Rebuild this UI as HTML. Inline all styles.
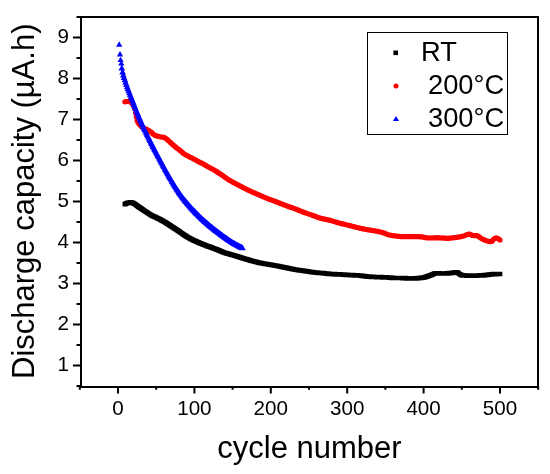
<!DOCTYPE html>
<html><head><meta charset="utf-8"><style>
html,body{margin:0;padding:0;background:#fff;}
body{width:550px;height:474px;overflow:hidden;}
svg{display:block;font-family:"Liberation Sans",Arial,sans-serif;}
</style></head><body>
<svg width="550" height="474" viewBox="0 0 550 474">
<rect width="550" height="474" fill="#fff"/>
<path d="M124.9 204.2h0M125.6 203.8h0M126.4 203.4h0M127.2 203.1h0M127.9 202.9h0M128.7 202.7h0M129.5 202.5h0M130.2 202.4h0M131 202.4h0M131.8 202.6h0M132.5 202.9h0M133.3 203.2h0M134 203.6h0M134.8 204h0M135.6 204.5h0M136.3 205.1h0M137.1 205.7h0M137.9 206.3h0M138.6 206.8h0M139.4 207.3h0M140.2 207.8h0M140.9 208.4h0M141.7 208.9h0M142.4 209.4h0M143.2 210h0M144 210.5h0M144.7 211h0M145.5 211.5h0M146.3 212h0M147 212.5h0M147.8 213h0M148.6 213.5h0M149.3 214h0M150.1 214.5h0M150.9 215h0M151.6 215.4h0M152.4 215.8h0M153.1 216.2h0M153.9 216.5h0M154.7 216.8h0M155.4 217.2h0M156.2 217.5h0M157 217.9h0M157.7 218.3h0M158.5 218.6h0M159.3 219h0M160 219.4h0M160.8 219.8h0M161.5 220.3h0M162.3 220.7h0M163.1 221.1h0M163.8 221.5h0M164.6 222h0M165.4 222.4h0M166.1 222.9h0M166.9 223.4h0M167.7 223.9h0M168.4 224.4h0M169.2 224.9h0M170 225.4h0M170.7 225.9h0M171.5 226.3h0M172.2 226.8h0M173 227.3h0M173.8 227.8h0M174.5 228.3h0M175.3 228.8h0M176.1 229.3h0M176.8 229.8h0M177.6 230.4h0M178.4 230.9h0M179.1 231.4h0M179.9 231.9h0M180.6 232.5h0M181.4 233h0M182.2 233.5h0M182.9 234.1h0M183.7 234.6h0M184.5 235.1h0M185.2 235.7h0M186 236.2h0M186.8 236.6h0M187.5 237.1h0M188.3 237.5h0M189.1 238h0M189.8 238.4h0M190.6 238.8h0M191.3 239.2h0M192.1 239.6h0M192.9 239.9h0M193.6 240.3h0M194.4 240.7h0M195.2 241h0M195.9 241.4h0M196.7 241.7h0M197.5 242.1h0M198.2 242.4h0M199 242.7h0M199.7 243.1h0M200.5 243.4h0M201.3 243.7h0M202 244h0M202.8 244.3h0M203.6 244.6h0M204.3 244.9h0M205.1 245.2h0M205.9 245.5h0M206.6 245.8h0M207.4 246.1h0M208.2 246.4h0M208.9 246.6h0M209.7 246.9h0M210.4 247.2h0M211.2 247.4h0M212 247.7h0M212.7 248h0M213.5 248.3h0M214.3 248.5h0M215 248.8h0M215.8 249.1h0M216.6 249.4h0M217.3 249.7h0M218.1 250.1h0M218.8 250.4h0M219.6 250.7h0M220.4 251h0M221.1 251.4h0M221.9 251.7h0M222.7 252h0M223.4 252.3h0M224.2 252.5h0M225 252.8h0M225.7 253h0M226.5 253.3h0M227.3 253.5h0M228 253.7h0M228.8 253.9h0M229.5 254.1h0M230.3 254.4h0M231.1 254.6h0M231.8 254.8h0M232.6 255h0M233.4 255.2h0M234.1 255.5h0M234.9 255.7h0M235.7 256h0M236.4 256.2h0M237.2 256.4h0M237.9 256.7h0M238.7 256.9h0M239.5 257.1h0M240.2 257.4h0M241 257.6h0M241.8 257.8h0M242.5 258.1h0M243.3 258.3h0M244.1 258.5h0M244.8 258.8h0M245.6 259h0M246.4 259.2h0M247.1 259.5h0M247.9 259.7h0M248.6 259.9h0M249.4 260.1h0M250.2 260.4h0M250.9 260.6h0M251.7 260.8h0M252.5 261h0M253.2 261.2h0M254 261.4h0M254.8 261.6h0M255.5 261.8h0M256.3 262h0M257 262.2h0M257.8 262.4h0M258.6 262.6h0M259.3 262.8h0M260.1 262.9h0M260.9 263.1h0M261.6 263.2h0M262.4 263.4h0M263.2 263.5h0M263.9 263.6h0M264.7 263.8h0M265.5 263.9h0M266.2 264h0M267 264.1h0M267.7 264.3h0M268.5 264.4h0M269.3 264.5h0M270 264.7h0M270.8 264.8h0M271.6 264.9h0M272.3 265.1h0M273.1 265.2h0M273.9 265.3h0M274.6 265.5h0M275.4 265.6h0M276.1 265.7h0M276.9 265.9h0M277.7 266h0M278.4 266.1h0M279.2 266.3h0M280 266.5h0M280.7 266.6h0M281.5 266.8h0M282.3 266.9h0M283 267.1h0M283.8 267.3h0M284.6 267.4h0M285.3 267.6h0M286.1 267.7h0M286.8 267.9h0M287.6 268.1h0M288.4 268.2h0M289.1 268.4h0M289.9 268.5h0M290.7 268.7h0M291.4 268.9h0M292.2 269h0M293 269.2h0M293.7 269.3h0M294.5 269.5h0M295.2 269.6h0M296 269.7h0M296.8 269.9h0M297.5 270h0M298.3 270.1h0M299.1 270.2h0M299.8 270.3h0M300.6 270.4h0M301.4 270.5h0M302.1 270.6h0M302.9 270.7h0M303.7 270.8h0M304.4 270.9h0M305.2 271.1h0M305.9 271.2h0M306.7 271.3h0M307.5 271.4h0M308.2 271.5h0M309 271.7h0M309.8 271.8h0M310.5 271.9h0M311.3 272h0M312.1 272.1h0M312.8 272.2h0M313.6 272.3h0M314.3 272.4h0M315.1 272.5h0M315.9 272.6h0M316.6 272.7h0M317.4 272.7h0M318.2 272.8h0M318.9 272.8h0M319.7 272.9h0M320.5 273h0M321.2 273h0M322 273.1h0M322.8 273.2h0M323.5 273.2h0M324.3 273.3h0M325 273.4h0M325.8 273.5h0M326.6 273.6h0M327.3 273.6h0M328.1 273.7h0M328.9 273.8h0M329.6 273.9h0M330.4 274h0M331.2 274h0M331.9 274.1h0M332.7 274.1h0M333.4 274.2h0M334.2 274.2h0M335 274.2h0M335.7 274.3h0M336.5 274.3h0M337.3 274.3h0M338 274.4h0M338.8 274.4h0M339.6 274.4h0M340.3 274.4h0M341.1 274.5h0M341.9 274.5h0M342.6 274.6h0M343.4 274.6h0M344.1 274.7h0M344.9 274.7h0M345.7 274.8h0M346.4 274.8h0M347.2 274.9h0M348 274.9h0M348.7 275h0M349.5 275h0M350.3 275.1h0M351 275.1h0M351.8 275.2h0M352.5 275.2h0M353.3 275.2h0M354.1 275.3h0M354.8 275.3h0M355.6 275.3h0M356.4 275.4h0M357.1 275.4h0M357.9 275.4h0M358.7 275.5h0M359.4 275.5h0M360.2 275.6h0M361 275.7h0M361.7 275.8h0M362.5 275.9h0M363.2 276h0M364 276.1h0M364.8 276.2h0M365.5 276.3h0M366.3 276.4h0M367.1 276.5h0M367.8 276.6h0M368.6 276.6h0M369.4 276.7h0M370.1 276.7h0M370.9 276.8h0M371.6 276.8h0M372.4 276.9h0M373.2 276.9h0M373.9 276.9h0M374.7 277h0M375.5 277h0M376.2 277.1h0M377 277.1h0M377.8 277.1h0M378.5 277.1h0M379.3 277.2h0M380.1 277.2h0M380.8 277.2h0M381.6 277.2h0M382.3 277.3h0M383.1 277.3h0M383.9 277.3h0M384.6 277.3h0M385.4 277.4h0M386.2 277.4h0M386.9 277.4h0M387.7 277.5h0M388.5 277.5h0M389.2 277.6h0M390 277.7h0M390.7 277.7h0M391.5 277.8h0M392.3 277.9h0M393 277.9h0M393.8 278h0M394.6 278h0M395.3 278h0M396.1 278h0M396.9 278h0M397.6 278h0M398.4 278h0M399.2 278h0M399.9 278h0M400.7 278h0M401.4 278h0M402.2 278.1h0M403 278.1h0M403.7 278.1h0M404.5 278.2h0M405.3 278.2h0M406 278.3h0M406.8 278.3h0M407.6 278.4h0M408.3 278.4h0M409.1 278.5h0M409.8 278.5h0M410.6 278.5h0M411.4 278.5h0M412.1 278.5h0M412.9 278.5h0M413.7 278.4h0M414.4 278.4h0M415.2 278.4h0M416 278.3h0M416.7 278.3h0M417.5 278.2h0M418.3 278.1h0M419 278.1h0M419.8 278h0M420.5 277.9h0M421.3 277.9h0M422.1 277.7h0M422.8 277.6h0M423.6 277.5h0M424.4 277.3h0M425.1 277.2h0M425.9 276.9h0M426.7 276.7h0M427.4 276.4h0M428.2 276.1h0M428.9 275.9h0M429.7 275.6h0M430.5 275.3h0M431.2 275h0M432 274.7h0M432.8 274.3h0M433.5 274h0M434.3 273.7h0M435.1 273.5h0M435.8 273.4h0M436.6 273.4h0M437.4 273.4h0M438.1 273.4h0M438.9 273.4h0M439.6 273.4h0M440.4 273.5h0M441.2 273.5h0M441.9 273.5h0M442.7 273.5h0M443.5 273.5h0M444.2 273.5h0M445 273.5h0M445.8 273.4h0M446.5 273.4h0M447.3 273.3h0M448 273.3h0M448.8 273.2h0M449.6 273.2h0M450.3 273.1h0M451.1 273h0M451.9 272.9h0M452.6 272.8h0M453.4 272.7h0M454.2 272.6h0M454.9 272.4h0M455.7 272.4h0M456.5 272.3h0M457.2 272.4h0M458 272.9h0M458.7 273.5h0M459.5 274h0M460.3 274.5h0M461 274.9h0M461.8 275.2h0M462.6 275.3h0M463.3 275.3h0M464.1 275.4h0M464.9 275.5h0M465.6 275.5h0M466.4 275.6h0M467.1 275.6h0M467.9 275.6h0M468.7 275.7h0M469.4 275.7h0M470.2 275.7h0M471 275.7h0M471.7 275.7h0M472.5 275.7h0M473.3 275.7h0M474 275.7h0M474.8 275.7h0M475.6 275.6h0M476.3 275.6h0M477.1 275.6h0M477.8 275.5h0M478.6 275.5h0M479.4 275.5h0M480.1 275.4h0M480.9 275.4h0M481.7 275.4h0M482.4 275.3h0M483.2 275.3h0M484 275.2h0M484.7 275.1h0M485.5 275.1h0M486.2 275h0M487 274.9h0M487.8 274.8h0M488.5 274.7h0M489.3 274.6h0M490.1 274.5h0M490.8 274.4h0M491.6 274.3h0M492.4 274.3h0M493.1 274.2h0M493.9 274.2h0M494.7 274.2h0M495.4 274.1h0M496.2 274.1h0M496.9 274.1h0M497.7 274h0M498.5 274h0M499.2 274h0M500 274h0" stroke="#000" stroke-width="4.7" stroke-linecap="square" fill="none"/>
<path d="M124.9 101.8h0M125.6 101.7h0M126.4 101.6h0M127.2 101.5h0M127.9 101.5h0M128.7 101.6h0M129.5 101.7h0M130.2 101.8h0M131 102.2h0M131.8 103h0M132.5 104h0M133.3 105.2h0M134 106.8h0M134.8 109.1h0M135.6 112.9h0M136.3 116.8h0M137.1 120.4h0M137.9 122.2h0M138.6 123.4h0M139.4 124.3h0M140.2 125.2h0M140.9 126h0M141.7 126.7h0M142.4 127.3h0M143.2 127.8h0M144 128.2h0M144.7 128.6h0M145.5 128.9h0M146.3 129.1h0M147 129.5h0M147.8 129.9h0M148.6 130.3h0M149.3 130.8h0M150.1 131.3h0M150.9 131.9h0M151.6 132.5h0M152.4 133.2h0M153.1 134h0M153.9 134.6h0M154.7 135.1h0M155.4 135.4h0M156.2 135.7h0M157 136h0M157.7 136.2h0M158.5 136.4h0M159.3 136.6h0M160 136.8h0M160.8 137h0M161.5 137.1h0M162.3 137.2h0M163.1 137.3h0M163.8 137.4h0M164.6 137.6h0M165.4 138h0M166.1 138.5h0M166.9 139.2h0M167.7 139.9h0M168.4 140.6h0M169.2 141.3h0M170 142h0M170.7 142.7h0M171.5 143.4h0M172.2 144.1h0M173 144.8h0M173.8 145.4h0M174.5 146.1h0M175.3 146.7h0M176.1 147.4h0M176.8 148h0M177.6 148.5h0M178.4 149.1h0M179.1 149.7h0M179.9 150.3h0M180.6 150.9h0M181.4 151.6h0M182.2 152.2h0M182.9 152.9h0M183.7 153.5h0M184.5 154h0M185.2 154.5h0M186 155h0M186.8 155.4h0M187.5 155.8h0M188.3 156.2h0M189.1 156.6h0M189.8 157h0M190.6 157.4h0M191.3 157.7h0M192.1 158.1h0M192.9 158.5h0M193.6 158.9h0M194.4 159.3h0M195.2 159.7h0M195.9 160.1h0M196.7 160.6h0M197.5 161h0M198.2 161.4h0M199 161.8h0M199.7 162.2h0M200.5 162.5h0M201.3 162.9h0M202 163.3h0M202.8 163.6h0M203.6 164h0M204.3 164.5h0M205.1 164.9h0M205.9 165.4h0M206.6 165.9h0M207.4 166.3h0M208.2 166.8h0M208.9 167.2h0M209.7 167.6h0M210.4 168h0M211.2 168.4h0M212 168.8h0M212.7 169.1h0M213.5 169.6h0M214.3 170h0M215 170.5h0M215.8 170.9h0M216.6 171.4h0M217.3 171.9h0M218.1 172.4h0M218.8 172.9h0M219.6 173.4h0M220.4 173.9h0M221.1 174.4h0M221.9 174.9h0M222.7 175.5h0M223.4 176h0M224.2 176.6h0M225 177.2h0M225.7 177.7h0M226.5 178.3h0M227.3 178.8h0M228 179.3h0M228.8 179.8h0M229.5 180.2h0M230.3 180.7h0M231.1 181.1h0M231.8 181.5h0M232.6 182h0M233.4 182.4h0M234.1 182.8h0M234.9 183.2h0M235.7 183.6h0M236.4 184h0M237.2 184.4h0M237.9 184.8h0M238.7 185.2h0M239.5 185.6h0M240.2 186h0M241 186.4h0M241.8 186.8h0M242.5 187.2h0M243.3 187.6h0M244.1 188h0M244.8 188.4h0M245.6 188.8h0M246.4 189.1h0M247.1 189.5h0M247.9 189.9h0M248.6 190.3h0M249.4 190.6h0M250.2 191h0M250.9 191.3h0M251.7 191.7h0M252.5 192h0M253.2 192.4h0M254 192.7h0M254.8 193h0M255.5 193.3h0M256.3 193.7h0M257 194h0M257.8 194.3h0M258.6 194.7h0M259.3 195h0M260.1 195.3h0M260.9 195.7h0M261.6 196h0M262.4 196.3h0M263.2 196.7h0M263.9 197h0M264.7 197.3h0M265.5 197.6h0M266.2 198h0M267 198.3h0M267.7 198.6h0M268.5 198.9h0M269.3 199.2h0M270 199.5h0M270.8 199.7h0M271.6 200h0M272.3 200.3h0M273.1 200.6h0M273.9 200.8h0M274.6 201.1h0M275.4 201.4h0M276.1 201.7h0M276.9 202h0M277.7 202.3h0M278.4 202.6h0M279.2 202.9h0M280 203.2h0M280.7 203.5h0M281.5 203.8h0M282.3 204.1h0M283 204.4h0M283.8 204.7h0M284.6 205h0M285.3 205.3h0M286.1 205.6h0M286.8 205.9h0M287.6 206.1h0M288.4 206.4h0M289.1 206.7h0M289.9 206.9h0M290.7 207.2h0M291.4 207.4h0M292.2 207.7h0M293 208h0M293.7 208.3h0M294.5 208.5h0M295.2 208.8h0M296 209.1h0M296.8 209.4h0M297.5 209.7h0M298.3 210.1h0M299.1 210.4h0M299.8 210.7h0M300.6 211h0M301.4 211.3h0M302.1 211.6h0M302.9 211.9h0M303.7 212.2h0M304.4 212.4h0M305.2 212.7h0M305.9 213h0M306.7 213.3h0M307.5 213.5h0M308.2 213.8h0M309 214.1h0M309.8 214.3h0M310.5 214.6h0M311.3 214.8h0M312.1 215.1h0M312.8 215.4h0M313.6 215.7h0M314.3 215.9h0M315.1 216.2h0M315.9 216.5h0M316.6 216.8h0M317.4 217.1h0M318.2 217.4h0M318.9 217.6h0M319.7 217.9h0M320.5 218.1h0M321.2 218.4h0M322 218.6h0M322.8 218.7h0M323.5 218.9h0M324.3 219.1h0M325 219.2h0M325.8 219.4h0M326.6 219.5h0M327.3 219.7h0M328.1 219.9h0M328.9 220h0M329.6 220.2h0M330.4 220.4h0M331.2 220.6h0M331.9 220.8h0M332.7 221.1h0M333.4 221.3h0M334.2 221.5h0M335 221.8h0M335.7 222h0M336.5 222.2h0M337.3 222.5h0M338 222.7h0M338.8 222.9h0M339.6 223.1h0M340.3 223.3h0M341.1 223.5h0M341.9 223.7h0M342.6 223.9h0M343.4 224.1h0M344.1 224.2h0M344.9 224.4h0M345.7 224.6h0M346.4 224.8h0M347.2 225h0M348 225.1h0M348.7 225.3h0M349.5 225.5h0M350.3 225.7h0M351 225.9h0M351.8 226.1h0M352.5 226.3h0M353.3 226.5h0M354.1 226.7h0M354.8 226.9h0M355.6 227.1h0M356.4 227.3h0M357.1 227.5h0M357.9 227.6h0M358.7 227.8h0M359.4 228h0M360.2 228.2h0M361 228.4h0M361.7 228.5h0M362.5 228.7h0M363.2 228.9h0M364 229h0M364.8 229.2h0M365.5 229.3h0M366.3 229.5h0M367.1 229.6h0M367.8 229.8h0M368.6 229.9h0M369.4 230h0M370.1 230.1h0M370.9 230.2h0M371.6 230.4h0M372.4 230.5h0M373.2 230.6h0M373.9 230.7h0M374.7 230.9h0M375.5 231h0M376.2 231.1h0M377 231.3h0M377.8 231.4h0M378.5 231.6h0M379.3 231.8h0M380.1 231.9h0M380.8 232.1h0M381.6 232.3h0M382.3 232.5h0M383.1 232.7h0M383.9 232.9h0M384.6 233.2h0M385.4 233.5h0M386.2 233.8h0M386.9 234.2h0M387.7 234.5h0M388.5 234.8h0M389.2 235h0M390 235.1h0M390.7 235.3h0M391.5 235.4h0M392.3 235.6h0M393 235.7h0M393.8 235.8h0M394.6 235.9h0M395.3 236h0M396.1 236.1h0M396.9 236.2h0M397.6 236.3h0M398.4 236.4h0M399.2 236.4h0M399.9 236.5h0M400.7 236.6h0M401.4 236.6h0M402.2 236.6h0M403 236.6h0M403.7 236.6h0M404.5 236.6h0M405.3 236.6h0M406 236.6h0M406.8 236.6h0M407.6 236.6h0M408.3 236.6h0M409.1 236.6h0M409.8 236.6h0M410.6 236.6h0M411.4 236.6h0M412.1 236.6h0M412.9 236.6h0M413.7 236.6h0M414.4 236.6h0M415.2 236.6h0M416 236.7h0M416.7 236.7h0M417.5 236.7h0M418.3 236.7h0M419 236.7h0M419.8 236.8h0M420.5 236.8h0M421.3 236.9h0M422.1 236.9h0M422.8 237.1h0M423.6 237.2h0M424.4 237.4h0M425.1 237.5h0M425.9 237.7h0M426.7 237.8h0M427.4 237.9h0M428.2 238h0M428.9 238h0M429.7 238h0M430.5 238h0M431.2 238h0M432 238h0M432.8 238h0M433.5 238h0M434.3 237.9h0M435.1 237.9h0M435.8 237.9h0M436.6 237.9h0M437.4 237.9h0M438.1 237.9h0M438.9 237.9h0M439.6 237.9h0M440.4 238h0M441.2 238h0M441.9 238h0M442.7 238.1h0M443.5 238.1h0M444.2 238.2h0M445 238.2h0M445.8 238.3h0M446.5 238.3h0M447.3 238.3h0M448 238.3h0M448.8 238.3h0M449.6 238.2h0M450.3 238.2h0M451.1 238.1h0M451.9 238h0M452.6 237.9h0M453.4 237.8h0M454.2 237.7h0M454.9 237.6h0M455.7 237.5h0M456.5 237.4h0M457.2 237.3h0M458 237.2h0M458.7 237h0M459.5 236.9h0M460.3 236.8h0M461 236.6h0M461.8 236.4h0M462.6 236.3h0M463.3 236.1h0M464.1 235.8h0M464.9 235.5h0M465.6 235.1h0M466.4 234.8h0M467.1 234.5h0M467.9 234.3h0M468.7 234.1h0M469.4 234.1h0M470.2 234.3h0M471 234.7h0M471.7 235.1h0M472.5 235.5h0M473.3 235.6h0M474 235.6h0M474.8 235.6h0M475.6 235.7h0M476.3 235.7h0M477.1 235.7h0M477.8 235.9h0M478.6 236.4h0M479.4 236.9h0M480.1 237.6h0M480.9 238.1h0M481.7 238.6h0M482.4 239h0M483.2 239.3h0M484 239.7h0M484.7 240h0M485.5 240.3h0M486.2 240.6h0M487 240.9h0M487.8 241.1h0M488.5 241.3h0M489.3 241.5h0M490.1 241.6h0M490.8 241.6h0M491.6 241.4h0M492.4 240.7h0M493.1 239.8h0M493.9 238.9h0M494.7 238.3h0M495.4 238h0M496.2 238h0M496.9 238.2h0M497.7 238.4h0M498.5 238.8h0M499.2 239.3h0M500 240h0" stroke="#f00" stroke-width="5.2" stroke-linecap="round" fill="none"/>
<path d="M119.2 41.3l3.1 5.4h-6.2zM120 51.1l3.1 5.4h-6.2zM120.6 56.7l3.1 5.4h-6.2zM121.3 60.2l3.1 5.4h-6.2zM121.8 64.6l3.3 5.8h-6.6zM122.6 68.6l3.3 5.8h-6.6zM123.3 71.6l3.3 5.8h-6.6zM124.1 74.1l3.3 5.8h-6.6zM124.9 76.4l3.3 5.8h-6.6zM125.6 78.9l3.3 5.8h-6.6zM126.4 81.2l3.3 5.8h-6.6zM127.2 83.4l3.3 5.8h-6.6zM127.9 85.5l3.3 5.8h-6.6zM128.7 87.5l3.3 5.8h-6.6zM129.5 89.5l3.3 5.8h-6.6zM130.2 91.5l3.3 5.8h-6.6zM131 93.4l3.3 5.8h-6.6zM131.8 95.4l3.3 5.8h-6.6zM132.5 97.3l3.3 5.8h-6.6zM133.3 99.3l3.3 5.8h-6.6zM134 101.3l3.3 5.8h-6.6zM134.8 103.2l3.3 5.8h-6.6zM135.6 105.2l3.3 5.8h-6.6zM136.3 107.1l3.3 5.8h-6.6zM137.1 108.9l3.3 5.8h-6.6zM137.9 110.8l3.3 5.8h-6.6zM138.6 112.6l3.3 5.8h-6.6zM139.4 114.4l3.3 5.8h-6.6zM140.2 116.2l3.3 5.8h-6.6zM140.9 117.9l3.3 5.8h-6.6zM141.7 119.6l3.3 5.8h-6.6zM142.4 121.3l3.3 5.8h-6.6zM143.2 122.9l3.3 5.8h-6.6zM144 124.6l3.3 5.8h-6.6zM144.7 126.2l3.3 5.8h-6.6zM145.5 127.8l3.3 5.8h-6.6zM146.3 129.4l3.3 5.8h-6.6zM147 130.9l3.3 5.8h-6.6zM147.8 132.5l3.3 5.8h-6.6zM148.6 134l3.3 5.8h-6.6zM149.3 135.6l3.3 5.8h-6.6zM150.1 137.1l3.3 5.8h-6.6zM150.9 138.6l3.3 5.8h-6.6zM151.6 140.1l3.3 5.8h-6.6zM152.4 141.6l3.3 5.8h-6.6zM153.1 143.1l3.3 5.8h-6.6zM153.9 144.6l3.3 5.8h-6.6zM154.7 146.1l3.3 5.8h-6.6zM155.4 147.5l3.3 5.8h-6.6zM156.2 149l3.3 5.8h-6.6zM157 150.5l3.3 5.8h-6.6zM157.7 151.9l3.3 5.8h-6.6zM158.5 153.3l3.3 5.8h-6.6zM159.3 154.8l3.3 5.8h-6.6zM160 156.2l3.3 5.8h-6.6zM160.8 157.6l3.3 5.8h-6.6zM161.5 159l3.3 5.8h-6.6zM162.3 160.4l3.3 5.8h-6.6zM163.1 161.9l3.3 5.8h-6.6zM163.8 163.3l3.3 5.8h-6.6zM164.6 164.7l3.3 5.8h-6.6zM165.4 166.1l3.3 5.8h-6.6zM166.1 167.5l3.3 5.8h-6.6zM166.9 168.8l3.3 5.8h-6.6zM167.7 170.2l3.3 5.8h-6.6zM168.4 171.6l3.3 5.8h-6.6zM169.2 172.9l3.3 5.8h-6.6zM170 174.2l3.3 5.8h-6.6zM170.7 175.5l3.3 5.8h-6.6zM171.5 176.8l3.3 5.8h-6.6zM172.2 178.1l3.3 5.8h-6.6zM173 179.4l3.3 5.8h-6.6zM173.8 180.6l3.3 5.8h-6.6zM174.5 181.9l3.3 5.8h-6.6zM175.3 183.1l3.3 5.8h-6.6zM176.1 184.4l3.3 5.8h-6.6zM176.8 185.6l3.3 5.8h-6.6zM177.6 186.8l3.3 5.8h-6.6zM178.4 187.9l3.3 5.8h-6.6zM179.1 189.1l3.3 5.8h-6.6zM179.9 190.2l3.3 5.8h-6.6zM180.6 191.3l3.3 5.8h-6.6zM181.4 192.4l3.3 5.8h-6.6zM182.2 193.4l3.3 5.8h-6.6zM182.9 194.4l3.3 5.8h-6.6zM183.7 195.4l3.3 5.8h-6.6zM184.5 196.4l3.3 5.8h-6.6zM185.2 197.4l3.3 5.8h-6.6zM186 198.3l3.3 5.8h-6.6zM186.8 199.2l3.3 5.8h-6.6zM187.5 200.1l3.3 5.8h-6.6zM188.3 201l3.3 5.8h-6.6zM189.1 201.9l3.3 5.8h-6.6zM189.8 202.8l3.3 5.8h-6.6zM190.6 203.7l3.3 5.8h-6.6zM191.3 204.5l3.3 5.8h-6.6zM192.1 205.4l3.3 5.8h-6.6zM192.9 206.2l3.3 5.8h-6.6zM193.6 207l3.3 5.8h-6.6zM194.4 207.8l3.3 5.8h-6.6zM195.2 208.6l3.3 5.8h-6.6zM195.9 209.4l3.3 5.8h-6.6zM196.7 210.2l3.3 5.8h-6.6zM197.5 211l3.3 5.8h-6.6zM198.2 211.7l3.3 5.8h-6.6zM199 212.5l3.3 5.8h-6.6zM199.7 213.2l3.3 5.8h-6.6zM200.5 214l3.3 5.8h-6.6zM201.3 214.7l3.3 5.8h-6.6zM202 215.4l3.3 5.8h-6.6zM202.8 216.2l3.3 5.8h-6.6zM203.6 216.9l3.3 5.8h-6.6zM204.3 217.6l3.3 5.8h-6.6zM205.1 218.3l3.3 5.8h-6.6zM205.9 219l3.3 5.8h-6.6zM206.6 219.6l3.3 5.8h-6.6zM207.4 220.3l3.3 5.8h-6.6zM208.2 221l3.3 5.8h-6.6zM208.9 221.6l3.3 5.8h-6.6zM209.7 222.3l3.3 5.8h-6.6zM210.4 222.9l3.3 5.8h-6.6zM211.2 223.5l3.3 5.8h-6.6zM212 224.1l3.3 5.8h-6.6zM212.7 224.8l3.3 5.8h-6.6zM213.5 225.4l3.3 5.8h-6.6zM214.3 226l3.3 5.8h-6.6zM215 226.6l3.3 5.8h-6.6zM215.8 227.2l3.3 5.8h-6.6zM216.6 227.7l3.3 5.8h-6.6zM217.3 228.3l3.3 5.8h-6.6zM218.1 228.9l3.3 5.8h-6.6zM218.8 229.5l3.3 5.8h-6.6zM219.6 230l3.3 5.8h-6.6zM220.4 230.6l3.3 5.8h-6.6zM221.1 231.2l3.3 5.8h-6.6zM221.9 231.7l3.3 5.8h-6.6zM222.7 232.3l3.3 5.8h-6.6zM223.4 232.9l3.3 5.8h-6.6zM224.2 233.4l3.3 5.8h-6.6zM225 234l3.3 5.8h-6.6zM225.7 234.5l3.3 5.8h-6.6zM226.5 235.1l3.3 5.8h-6.6zM227.3 235.6l3.3 5.8h-6.6zM228 236.2l3.3 5.8h-6.6zM228.8 236.7l3.3 5.8h-6.6zM229.5 237.2l3.3 5.8h-6.6zM230.3 237.8l3.3 5.8h-6.6zM231.1 238.3l3.3 5.8h-6.6zM231.8 238.7l3.3 5.8h-6.6zM232.6 239.2l3.3 5.8h-6.6zM233.4 239.7l3.3 5.8h-6.6zM234.1 240.1l3.3 5.8h-6.6zM234.9 240.6l3.3 5.8h-6.6zM235.7 241l3.3 5.8h-6.6zM236.4 241.4l3.3 5.8h-6.6zM237.2 241.8l3.3 5.8h-6.6zM237.9 242.2l3.3 5.8h-6.6zM238.7 242.6l3.3 5.8h-6.6zM239.5 243l3.3 5.8h-6.6zM240.2 243.4l3.3 5.8h-6.6zM241 243.8l3.3 5.8h-6.6zM241.8 244.1l3.3 5.8h-6.6zM242.5 244.5l3.3 5.8h-6.6z" fill="#00f"/>
<path d="M81 17H538V387H81Z" fill="none" stroke="#000" stroke-width="2"/>
<path d="M73 365.6H81M73 324.6H81M73 283.6H81M73 242.6H81M73 201.6H81M73 160.6H81M73 119.6H81M73 78.6H81M73 37.6H81M76.5 345.1H81M76.5 304.1H81M76.5 263.1H81M76.5 222.1H81M76.5 181.1H81M76.5 140.1H81M76.5 99.1H81M76.5 58.1H81M76.5 17.1H81M76.5 386.1H81M118 387V393.5M194.4 387V393.5M270.8 387V393.5M347.2 387V393.5M423.6 387V393.5M500 387V393.5M79.8 387V389.8M156.2 387V389.8M232.6 387V389.8M309 387V389.8M385.4 387V389.8M461.8 387V389.8M538.2 387V389.8" stroke="#000" stroke-width="2" fill="none"/>
<g font-size="20.6" text-anchor="end" fill="#000"><text x="68.9" y="371.4">1</text><text x="68.9" y="330.4">2</text><text x="68.9" y="289.4">3</text><text x="68.9" y="248.4">4</text><text x="68.9" y="207.4">5</text><text x="68.9" y="166.4">6</text><text x="68.9" y="125.4">7</text><text x="68.9" y="84.4">8</text><text x="68.9" y="43.4">9</text></g>
<g font-size="20.6" text-anchor="middle" fill="#000"><text x="118" y="414.6">0</text><text x="194.4" y="414.6">100</text><text x="270.8" y="414.6">200</text><text x="347.2" y="414.6">300</text><text x="423.6" y="414.6">400</text><text x="500" y="414.6">500</text></g>
<text x="217.3" y="458.2" font-size="31" fill="#000">cycle number</text>
<text transform="translate(34 379) rotate(-90)" font-size="31" fill="#000">Discharge capacity (µA.h)</text>
<rect x="367.5" y="32.5" width="140" height="102" fill="#fff" stroke="#000" stroke-width="1"/>
<rect x="393.4" y="50.5" width="4.6" height="4.6" fill="#000"/>
<circle cx="396" cy="86.1" r="2.5" fill="#f00"/>
<path d="M396 116l3.05 5.1h-6.1z" fill="#00f"/>
<g font-size="27.3" fill="#000">
<text x="421" y="60.9">RT</text>
<text x="428" y="94.2">200°C</text>
<text x="428" y="126.6">300°C</text>
</g>
</svg>
</body></html>
